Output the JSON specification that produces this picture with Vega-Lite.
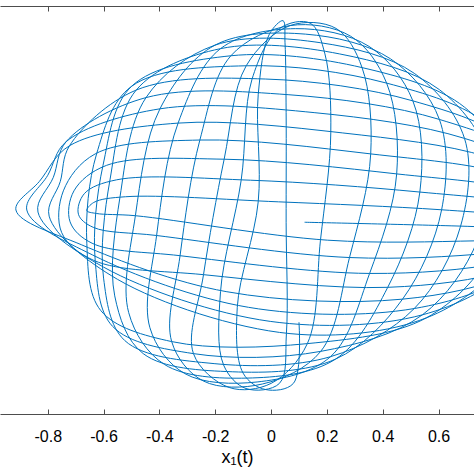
{
  "$schema": "https://vega.github.io/schema/vega-lite/v6.json",
  "width": 474,
  "height": 408,
  "autosize": {"type": "none"},
  "padding": {"left": 0, "top": 6, "right": 0, "bottom": 60},
  "background": "white",
  "config": {
    "view": {"stroke": null},
    "axis": {
      "domainColor": "#4d4d4d",
      "tickColor": "#4d4d4d",
      "grid": false,
      "labelFont": "Liberation Sans",
      "titleFont": "Liberation Sans",
      "labelColor": "#000000",
      "titleColor": "#000000"
    }
  },
  "data": {"values": [
    {"i":0,"x":0.120,"y":-0.060},{"i":1,"x":0.679,"y":-0.079},{"i":2,"x":1.056,"y":-0.098},{"i":3,"x":1.178,"y":-0.096},{"i":4,"x":1.021,"y":-0.048},{"i":5,"x":0.611,"y":0.001},{"i":6,"x":0.027,"y":0.040},{"i":7,"x":-0.521,"y":0.065},{"i":8,"x":-0.635,"y":0.037},{"i":9,"x":-0.660,"y":-0.003},{"i":10,"x":-0.626,"y":-0.017},{"i":11,"x":-0.486,"y":-0.028},
    {"i":12,"x":0.203,"y":-0.148},{"i":13,"x":0.739,"y":-0.151},{"i":14,"x":1.079,"y":-0.132},{"i":15,"x":1.167,"y":-0.078},{"i":16,"x":0.975,"y":0.016},{"i":17,"x":0.533,"y":0.088},{"i":18,"x":-0.073,"y":0.146},{"i":19,"x":-0.553,"y":0.148},{"i":20,"x":-0.669,"y":0.080},{"i":21,"x":-0.690,"y":-0.021},{"i":22,"x":-0.637,"y":-0.085},{"i":23,"x":-0.410,"y":-0.125},
    {"i":24,"x":0.281,"y":-0.233},{"i":25,"x":0.789,"y":-0.211},{"i":26,"x":1.090,"y":-0.149},{"i":27,"x":1.145,"y":-0.043},{"i":28,"x":0.918,"y":0.090},{"i":29,"x":0.450,"y":0.177},{"i":30,"x":-0.168,"y":0.249},{"i":31,"x":-0.589,"y":0.219},{"i":32,"x":-0.706,"y":0.094},{"i":33,"x":-0.720,"y":-0.058},{"i":34,"x":-0.641,"y":-0.163},{"i":35,"x":-0.326,"y":-0.224},
    {"i":36,"x":0.353,"y":-0.311},{"i":37,"x":0.826,"y":-0.259},{"i":38,"x":1.090,"y":-0.149},{"i":39,"x":1.110,"y":0.008},{"i":40,"x":0.851,"y":0.173},{"i":41,"x":0.357,"y":0.275},{"i":42,"x":-0.255,"y":0.343},{"i":43,"x":-0.630,"y":0.275},{"i":44,"x":-0.744,"y":0.094},{"i":45,"x":-0.750,"y":-0.111},{"i":46,"x":-0.635,"y":-0.247},{"i":47,"x":-0.242,"y":-0.317},
    {"i":48,"x":0.418,"y":-0.379},{"i":49,"x":0.851,"y":-0.293},{"i":50,"x":1.079,"y":-0.132},{"i":51,"x":1.065,"y":0.073},{"i":52,"x":0.776,"y":0.260},{"i":53,"x":0.255,"y":0.378},{"i":54,"x":-0.333,"y":0.426},{"i":55,"x":-0.722,"y":0.315},{"i":56,"x":-0.830,"y":0.140},{"i":57,"x":-0.914,"y":0.000},{"i":58,"x":-0.680,"y":-0.170},{"i":59,"x":-0.161,"y":-0.400},
    {"i":60,"x":0.471,"y":-0.437},{"i":61,"x":0.864,"y":-0.309},{"i":62,"x":1.056,"y":-0.098},{"i":63,"x":1.008,"y":0.149},{"i":64,"x":0.693,"y":0.351},{"i":65,"x":0.157,"y":0.477},{"i":66,"x":-0.398,"y":0.496},{"i":67,"x":-0.734,"y":0.335},{"i":68,"x":-0.800,"y":0.170},{"i":69,"x":-0.875,"y":0.000},{"i":70,"x":-0.640,"y":-0.220},{"i":71,"x":-0.081,"y":-0.477},
    {"i":72,"x":0.513,"y":-0.483},{"i":73,"x":0.864,"y":-0.309},{"i":74,"x":1.021,"y":-0.048},{"i":75,"x":0.941,"y":0.233},{"i":76,"x":0.603,"y":0.444},{"i":77,"x":0.064,"y":0.565},{"i":78,"x":-0.448,"y":0.551},{"i":79,"x":-0.734,"y":0.335},{"i":80,"x":-0.780,"y":0.160},{"i":81,"x":-0.835,"y":-0.010},{"i":82,"x":-0.600,"y":-0.280},{"i":83,"x":-0.003,"y":-0.546},
    {"i":84,"x":0.542,"y":-0.514},{"i":85,"x":0.851,"y":-0.293},{"i":86,"x":0.975,"y":0.016},{"i":87,"x":0.865,"y":0.322},{"i":88,"x":0.508,"y":0.535},{"i":89,"x":-0.019,"y":0.642},{"i":90,"x":-0.483,"y":0.588},{"i":91,"x":-0.722,"y":0.315},{"i":92,"x":-0.755,"y":0.140},{"i":93,"x":-0.795,"y":-0.030},{"i":94,"x":-0.550,"y":-0.340},{"i":95,"x":0.068,"y":-0.606},
    {"i":96,"x":0.556,"y":-0.529},{"i":97,"x":0.826,"y":-0.259},{"i":98,"x":0.918,"y":0.090},{"i":99,"x":0.782,"y":0.413},{"i":100,"x":0.414,"y":0.622},{"i":101,"x":-0.089,"y":0.707},{"i":102,"x":-0.500,"y":0.606},{"i":103,"x":-0.625,"y":0.275},{"i":104,"x":-0.660,"y":-0.163},{"i":105,"x":-0.610,"y":-0.493},{"i":106,"x":-0.356,"y":-0.645},{"i":107,"x":0.130,"y":-0.655},
    {"i":108,"x":0.556,"y":-0.529},{"i":109,"x":0.789,"y":-0.211},{"i":110,"x":0.851,"y":0.173},{"i":111,"x":0.693,"y":0.504},{"i":112,"x":0.326,"y":0.698},{"i":113,"x":-0.144,"y":0.756},{"i":114,"x":-0.500,"y":0.606},{"i":115,"x":-0.602,"y":0.219},{"i":116,"x":-0.630,"y":-0.247},{"i":117,"x":-0.568,"y":-0.570},{"i":118,"x":-0.278,"y":-0.704},{"i":119,"x":0.178,"y":-0.693},
    {"i":120,"x":0.542,"y":-0.514},{"i":121,"x":0.739,"y":-0.151},{"i":122,"x":0.776,"y":0.260},{"i":123,"x":0.603,"y":0.590},{"i":124,"x":0.246,"y":0.765},{"i":125,"x":-0.181,"y":0.791},{"i":126,"x":-0.483,"y":0.588},{"i":127,"x":-0.577,"y":0.148},{"i":128,"x":-0.600,"y":-0.334},{"i":129,"x":-0.524,"y":-0.640},{"i":130,"x":-0.204,"y":-0.753},{"i":131,"x":0.213,"y":-0.719},
    {"i":132,"x":0.513,"y":-0.483},{"i":133,"x":0.679,"y":-0.079},{"i":134,"x":0.693,"y":0.351},{"i":135,"x":0.513,"y":0.670},{"i":136,"x":0.177,"y":0.820},{"i":137,"x":-0.201,"y":0.808},{"i":138,"x":-0.448,"y":0.551},{"i":139,"x":-0.541,"y":0.065},{"i":140,"x":-0.560,"y":-0.421},{"i":141,"x":-0.458,"y":-0.704},{"i":142,"x":-0.139,"y":-0.793},{"i":143,"x":0.231,"y":-0.731},
    {"i":144,"x":0.471,"y":-0.437},{"i":145,"x":0.611,"y":0.001},{"i":146,"x":0.603,"y":0.444},{"i":147,"x":0.428,"y":0.741},{"i":148,"x":0.124,"y":0.862},{"i":149,"x":-0.201,"y":0.808},{"i":150,"x":-0.398,"y":0.496},{"i":151,"x":-0.486,"y":-0.028},{"i":152,"x":-0.510,"y":-0.503},{"i":153,"x":-0.382,"y":-0.757},{"i":154,"x":-0.087,"y":-0.824},{"i":155,"x":0.231,"y":-0.731},
    {"i":156,"x":0.418,"y":-0.379},{"i":157,"x":0.533,"y":0.088},{"i":158,"x":0.508,"y":0.535},{"i":159,"x":0.351,"y":0.802},{"i":160,"x":0.087,"y":0.889},{"i":161,"x":-0.181,"y":0.791},{"i":162,"x":-0.333,"y":0.426},{"i":163,"x":-0.410,"y":-0.125},{"i":164,"x":-0.434,"y":-0.577},{"i":165,"x":-0.309,"y":-0.802},{"i":166,"x":-0.050,"y":-0.843},{"i":167,"x":0.213,"y":-0.719},
    {"i":168,"x":0.353,"y":-0.311},{"i":169,"x":0.450,"y":0.177},{"i":170,"x":0.414,"y":0.622},{"i":171,"x":0.285,"y":0.852},{"i":172,"x":0.068,"y":0.904},{"i":173,"x":-0.144,"y":0.756},{"i":174,"x":-0.255,"y":0.343},{"i":175,"x":-0.326,"y":-0.224},{"i":176,"x":-0.356,"y":-0.645},{"i":177,"x":-0.243,"y":-0.838},{"i":178,"x":-0.031,"y":-0.853},{"i":179,"x":0.178,"y":-0.693},
    {"i":180,"x":0.281,"y":-0.233},{"i":181,"x":0.357,"y":0.275},{"i":182,"x":0.326,"y":0.698},{"i":183,"x":0.233,"y":0.890},{"i":184,"x":0.068,"y":0.904},{"i":185,"x":-0.089,"y":0.707},{"i":186,"x":-0.168,"y":0.249},{"i":187,"x":-0.242,"y":-0.317},{"i":188,"x":-0.278,"y":-0.704},{"i":189,"x":-0.150,"y":-0.870},{"i":190,"x":0.000,"y":-0.850},{"i":191,"x":0.130,"y":-0.655},
    {"i":192,"x":0.177,"y":-0.148},{"i":193,"x":0.214,"y":0.378},{"i":194,"x":0.193,"y":0.765},{"i":195,"x":0.140,"y":0.916},{"i":196,"x":0.030,"y":0.889},{"i":197,"x":-0.068,"y":0.642},{"i":198,"x":-0.107,"y":0.146},{"i":199,"x":-0.181,"y":-0.400},{"i":200,"x":-0.170,"y":-0.760},{"i":201,"x":-0.090,"y":-0.875},{"i":202,"x":0.030,"y":-0.850},{"i":203,"x":0.055,"y":-0.606},
    {"i":204,"x":0.054,"y":-0.060},{"i":205,"x":0.054,"y":0.477},{"i":206,"x":0.050,"y":0.820},{"i":207,"x":0.043,"y":0.928},{"i":208,"x":-0.006,"y":0.862},{"i":209,"x":-0.046,"y":0.565},{"i":210,"x":-0.046,"y":0.040},{"i":211,"x":-0.121,"y":-0.477},{"i":212,"x":-0.100,"y":-0.800},{"i":213,"x":-0.020,"y":-0.880},{"i":214,"x":0.080,"y":-0.850},{"i":215,"x":0.100,"y":-0.550}
  ]},
  "layer": [
    {
      "mark": {"type": "line", "interpolate": "catmull-rom", "color": "#0072BD", "strokeWidth": 1, "clip": true},
      "encoding": {
        "x": {"field": "x", "type": "quantitative",
              "scale": {"domain": [-0.971, 0.727], "nice": false, "zero": false},
              "axis": {"orient": "bottom", "values": [-0.8,-0.6,-0.4,-0.2,0,0.2,0.4,0.6],
                       "labelExpr": "'' + datum.value", "tickSize": -5, "labelPadding": 19,
                       "labelFontSize": 16, "title": "x₁(t)", "titleFontSize": 18,
                       "titleFontWeight": "normal", "titlePadding": 4, "domainWidth": 1, "tickWidth": 1}},
        "y": {"field": "y", "type": "quantitative",
              "scale": {"domain": [-1, 1], "nice": false, "zero": false}, "axis": null},
        "order": {"field": "i", "type": "quantitative"}
      }
    },
    {
      "mark": {"type": "point", "opacity": 0, "clip": true},
      "encoding": {
        "x": {"field": "x", "type": "quantitative",
              "scale": {"domain": [-0.971, 0.727], "nice": false, "zero": false},
              "axis": {"orient": "top", "values": [-0.8,-0.6,-0.4,-0.2,0,0.2,0.4,0.6],
                       "labels": false, "title": null, "tickSize": -5, "domainWidth": 1, "tickWidth": 1}},
        "y": {"field": "y", "type": "quantitative", "axis": null}
      }
    }
  ],
  "resolve": {"axis": {"x": "independent"}}
}
